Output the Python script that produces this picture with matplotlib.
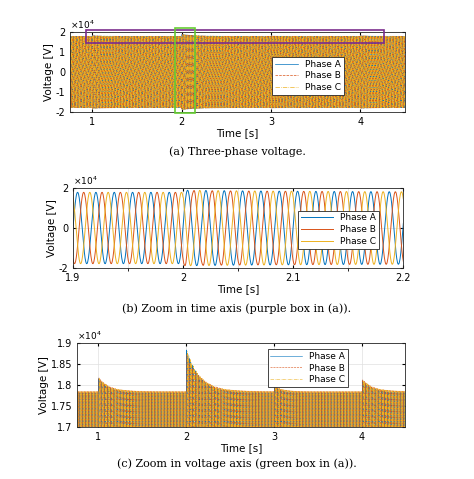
import matplotlib
matplotlib.use("Agg")
import matplotlib.pyplot as plt
import numpy as np
from matplotlib.patches import Rectangle

# signal parameters
FREQ_HZ = 60.0
BASE_PEAK = 1.785e4
EVENT_TIMES = [1.0, 2.0, 3.0, 4.0]
EVENT_BUMPS = [0.035e4, 0.105e4, 0.015e4, 0.03e4]
EVENT_TAU = [0.12, 0.15, 0.08, 0.12]
PHASE_NAMES = ["Phase A", "Phase B", "Phase C"]
PHASE_SHIFT_DEG = [0.0, -120.0, 120.0]
COLORS = ["#0072BD", "#D95319", "#EDB120"]
STYLES_A = ["-", "--", "-."]
CAPTIONS = ["(a) Three-phase voltage.",
            "(b) Zoom in time axis (purple box in (a)).",
            "(c) Zoom in voltage axis (green box in (a))."]

t = np.arange(0.75, 4.5, 1 / 3000.0)
amp = np.full_like(t, BASE_PEAK)
for tk, bk, tau in zip(EVENT_TIMES, EVENT_BUMPS, EVENT_TAU):
    m = t >= tk
    amp[m] += bk * np.exp(-(t[m] - tk) / tau)
phases = [amp * np.sin(2 * np.pi * FREQ_HZ * t + np.deg2rad(s)) for s in PHASE_SHIFT_DEG]
# small distortion on phase B after the 2 s event
mB = t >= 2.0
phases[1][mB] += 0.06e4 * np.exp(-(t[mB] - 2.0) / 0.05) * np.sin(2 * np.pi * 5 * FREQ_HZ * t[mB])

fig = plt.figure(figsize=(4.74, 4.79), dpi=100)
W, H = 474.0, 479.0


def make_ax(x0, y0, x1, y1):
    return fig.add_axes([x0 / W, 1 - y1 / H, (x1 - x0) / W, (y1 - y0) / H])


def style(ax):
    ax.tick_params(labelsize=7, direction="in", length=2, top=True, right=True)
    ax.grid(color="#e0e0e0", linewidth=0.5)
    ax.set_axisbelow(True)
    for s in ax.spines.values():
        s.set_linewidth(0.6)
        s.set_color("#262626")
    ax.set_xlabel("Time [s]", fontsize=7.5, labelpad=1)
    ax.set_ylabel("Voltage [V]", fontsize=7.5, labelpad=1)


def add_legend(ax, **kw):
    leg = ax.legend(fontsize=6.5, framealpha=1, edgecolor="#262626", fancybox=False,
                    borderpad=0.3, labelspacing=0.3, **kw)
    leg.get_frame().set_linewidth(0.6)
    leg.set_zorder(6)


# (a)
ax = make_ax(70, 32, 405, 112)
for y, c, ls, n in zip(phases, COLORS, STYLES_A, PHASE_NAMES):
    ax.plot(t, y, color=c, ls=ls, lw=0.5, label=n)
ax.set_xlim(0.75, 4.5)
ax.set_ylim(-2e4, 2e4)
ax.set_yticks([-2e4, -1e4, 0, 1e4, 2e4], ["-2", "-1", "0", "1", "2"])
ax.set_xticks([1, 2, 3, 4])
style(ax)
ax.text(0, 1.01, r"$\times10^4$", transform=ax.transAxes, fontsize=6.5, ha="left", va="bottom")
ax.add_patch(Rectangle((0.93, 1.45e4), 3.34, 0.65e4, fill=False, ec="#7B2D8E", lw=1.2,
                       clip_on=False, zorder=5))
ax.add_patch(Rectangle((1.93, -2.05e4), 0.22, 4.25e4, fill=False, ec="#66CC33", lw=1.2,
                       clip_on=False, zorder=5))
add_legend(ax, loc="center right", bbox_to_anchor=(0.83, 0.45), handlelength=2.5)
fig.text(0.5, 1 - 155 / H, CAPTIONS[0], ha="center", fontsize=8, family="DejaVu Serif")

# (b)
ax = make_ax(73, 188, 403, 268)
for y, c, n in zip(phases, COLORS, PHASE_NAMES):
    ax.plot(t, y, color=c, lw=0.7, label=n)
ax.set_xlim(1.9, 2.2)
ax.set_ylim(-2e4, 2e4)
ax.set_yticks([-2e4, 0, 2e4], ["-2", "0", "2"])
ax.set_xticks([1.9, 2.0, 2.1, 2.2], ["1.9", "2", "2.1", "2.2"])
ax.set_xticks([1.95, 2.05, 2.15], minor=True)
ax.grid(which="minor", color="#e0e0e0", linewidth=0.5)
style(ax)
ax.text(0, 1.01, r"$\times10^4$", transform=ax.transAxes, fontsize=6.5, ha="left", va="bottom")
add_legend(ax, loc="center right", bbox_to_anchor=(0.94, 0.48), handlelength=3.5)
fig.text(0.5, 1 - 312 / H, CAPTIONS[1], ha="center", fontsize=8, family="DejaVu Serif")

# (c)
ax = make_ax(77, 343, 405, 427)
for y, c, ls, n in zip(phases, COLORS, STYLES_A, PHASE_NAMES):
    ax.plot(t, y, color=c, ls=ls, lw=0.4, label=n)
ax.set_xlim(0.76, 4.49)
ax.set_ylim(1.7e4, 1.9e4)
ax.set_yticks([1.7e4, 1.75e4, 1.8e4, 1.85e4, 1.9e4], ["1.7", "1.75", "1.8", "1.85", "1.9"])
ax.set_xticks([1, 2, 3, 4])
style(ax)
ax.text(0, 1.01, r"$\times10^4$", transform=ax.transAxes, fontsize=6.5, ha="left", va="bottom")
add_legend(ax, loc="upper right", bbox_to_anchor=(0.84, 0.98), handlelength=3.5)
fig.text(0.5, 1 - 467 / H, CAPTIONS[2], ha="center", fontsize=8, family="DejaVu Serif")

fig.savefig("out.png", dpi=100, facecolor="white")
